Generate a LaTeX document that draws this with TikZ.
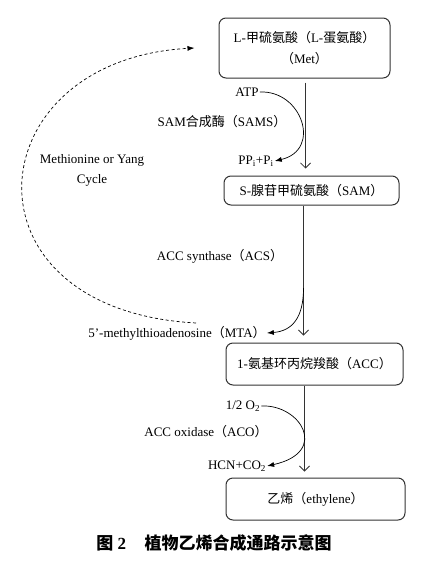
\documentclass[tikz,border=0pt]{standalone}
\usepackage{fontspec}
\setmainfont{Liberation Serif}
\newfontfamily\cjk{Noto Sans CJK SC}
\newcommand\zh[1]{{\cjk #1}}
\usetikzlibrary{arrows.meta}
\begin{document}
\begin{tikzpicture}[x=1pt,y=-1pt,
	box/.style={draw=black!80,line width=1pt,rounded corners=7pt,align=center,font=\fontsize{13}{21}\selectfont},
	lbl/.style={inner sep=1pt,align=center,font=\fontsize{13}{20}\selectfont},
	flow/.style={draw=black!80,line width=0.8pt,-{Straight Barb[length=5pt,width=10pt]}},
	side/.style={draw=black,line width=0.7pt,-{Latex[length=7pt,width=5pt]}},
	cyc/.style={side,dash pattern=on 3pt off 2.5pt}]
	\useasboundingbox (0,0) rectangle (437,565);
	
	\node[box,minimum width=171pt,minimum height=60pt] (met) at (304.5,48) {L-\zh{甲硫氨酸（}L-\zh{蛋氨酸）}\\\zh{（}Met\zh{）}};
	\node[box,minimum width=175pt,minimum height=29pt] (sam) at (311.5,190.5) {S-\zh{腺苷甲硫氨酸（}SAM\zh{）}};
	\node[box,minimum width=177pt,minimum height=42pt] (acc) at (314.5,364) {1-\zh{氨基环丙烷羧酸（}ACC\zh{）}};
	\node[box,minimum width=179pt,minimum height=42pt] (eth) at (315.5,499) {\zh{乙烯（}ethylene\zh{）}};
	
	\node[lbl] (atp) at (247,92) {ATP};
	\node[lbl] (sams) at (222,122) {SAM\zh{合成酶（}SAMS\zh{）}};
	\node[lbl] (ppi) at (256,161) {PP\textsubscript{i}+P\textsubscript{i}};
	\node[lbl] (cycle) at (92,170) {Methionine or Yang\\Cycle};
	\node[lbl] (acs) at (220,256) {ACC synthase\zh{（}ACS\zh{）}};
	\node[lbl] (mta) at (177,333) {5’-methylthioadenosine\zh{（}MTA\zh{）}};
	\node[lbl] (otwo) at (243,406) {1/2 O\textsubscript{2}};
	\node[lbl] (aco) at (206,432) {ACC oxidase\zh{（}ACO\zh{）}};
	\node[lbl] (hcn) at (237,466) {HCN+CO\textsubscript{2}};
	
	\node[font=\fontsize{17}{20}\selectfont\bfseries] (cap) at (214,543) {\zh{图} 2\hspace{1.1em}\zh{植物乙烯合成通路示意图}};
	
	\draw[flow,shorten <=4pt,shorten >=7pt] ([xshift=1pt]met.south) -- ([xshift=1pt]met.south |- sam.north);
	\draw[flow,shorten >=7pt] ([xshift=-8pt]sam.south) -- ([xshift=-8pt]sam.south |- acc.north);
	\draw[flow,shorten >=6pt] ([xshift=-10pt]acc.south) -- ([xshift=-10pt]acc.south |- eth.north);
	
	\coordinate (mtafork) at (303.5,288);
	\coordinate (cycstart) at (196,323);
	\coordinate (cycend) at ([xshift=-24pt]met.west);
	
	\draw[side] (atp.east) .. controls (302,90) and (322,150) .. (ppi.east);
	\draw[side] (mtafork) .. controls (303.5,318) and (292,331) .. (mta.east);
	\draw[side] (otwo.east) .. controls (300,404) and (330,452) .. (hcn.east);
	\draw[cyc] (cycstart) .. controls (-45,310) and (-25,60) .. (cycend);
\end{tikzpicture}
\end{document}
